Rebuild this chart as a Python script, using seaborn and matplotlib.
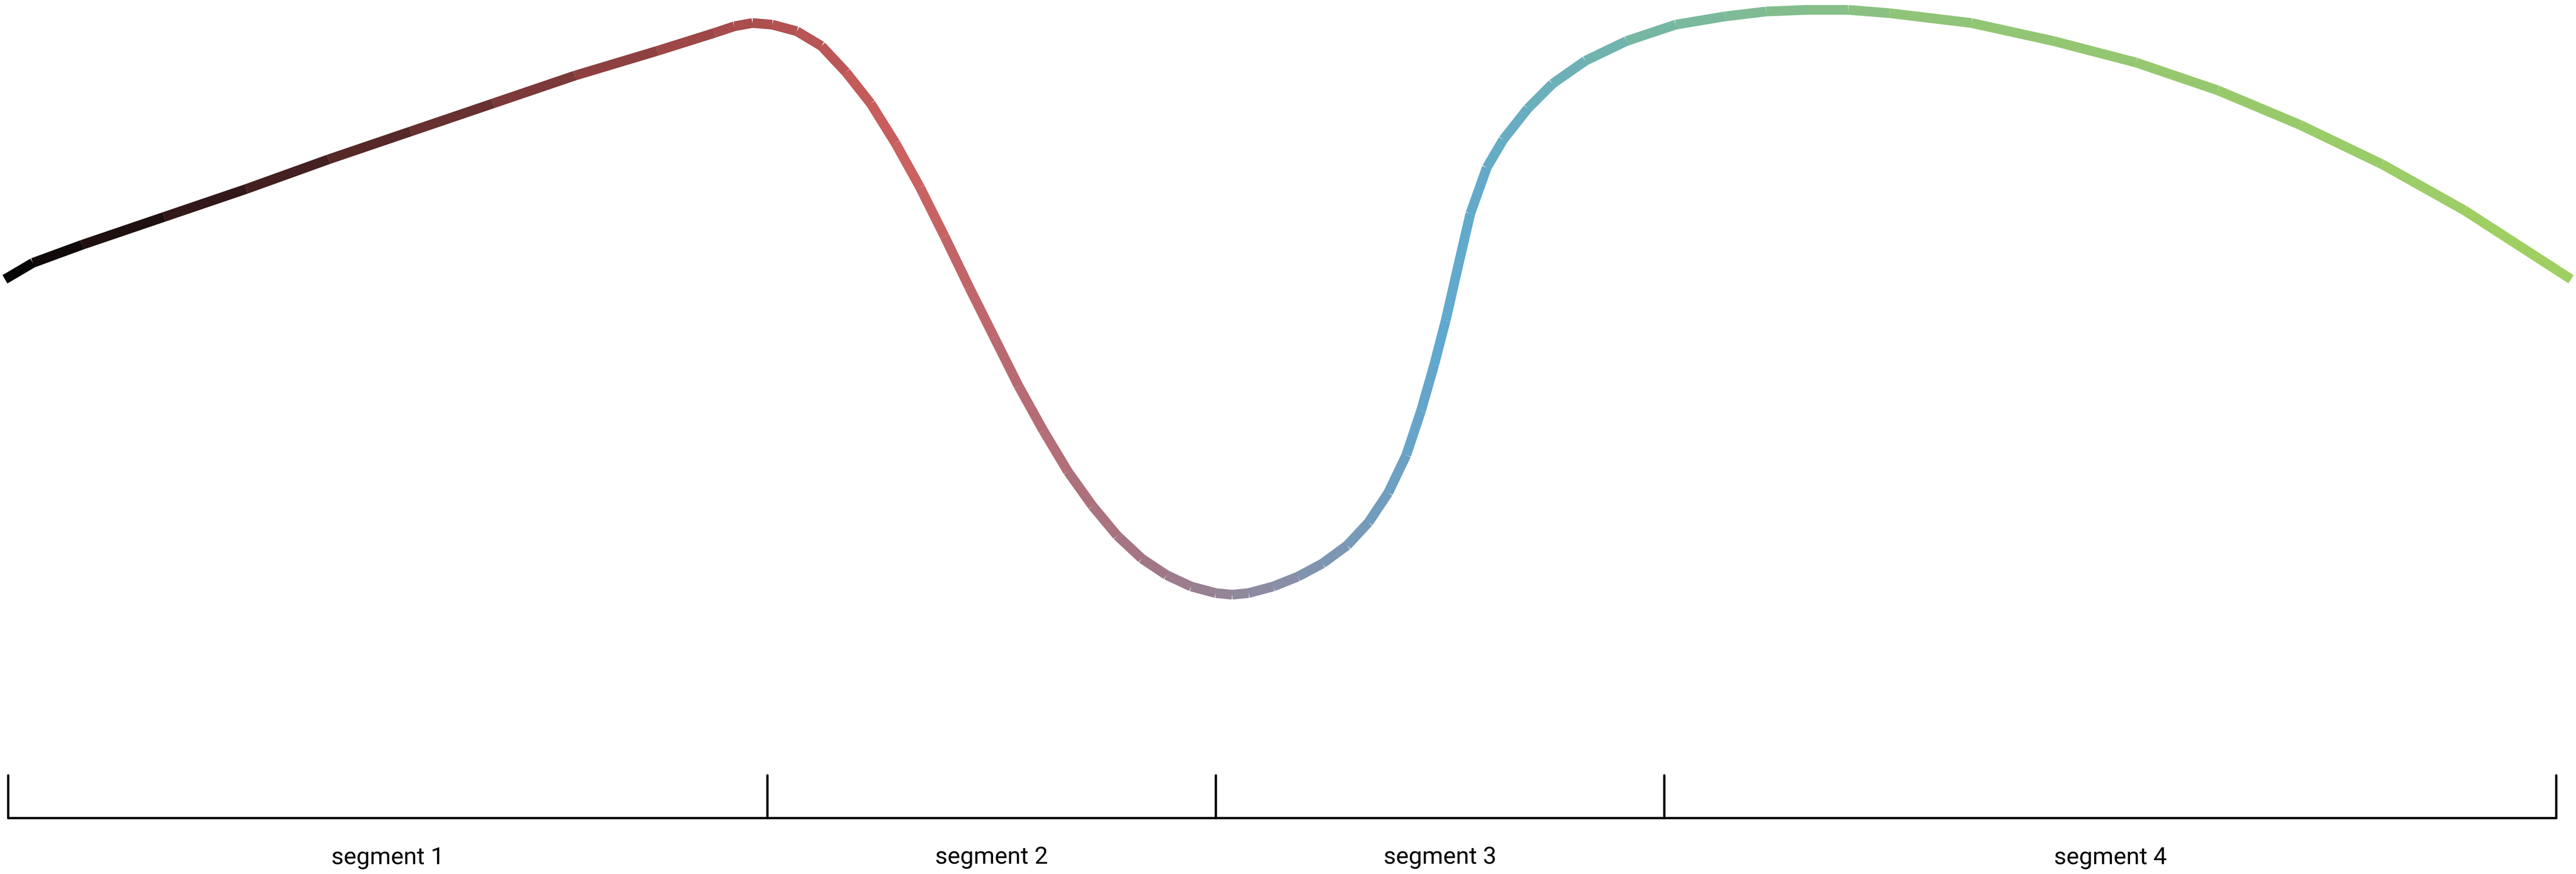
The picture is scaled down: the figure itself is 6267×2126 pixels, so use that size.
import numpy as np
import matplotlib
matplotlib.use("Agg")
import matplotlib.pyplot as plt
import seaborn as sns
from matplotlib.collections import LineCollection
from matplotlib.colors import LinearSegmentedColormap

sns.set_theme(style="white")
plt.rcParams['font.family'] = ['Roboto', 'DejaVu Sans']

# curve points (x, y in picture units, y downward)
curve_x = [3, 20, 50, 100, 150, 200, 250, 300, 350, 400, 435, 447, 458, 470, 485, 500, 515, 530, 545, 560, 575, 590, 605, 620, 635, 650, 665, 680, 695, 710, 725, 740, 750, 760, 775, 790, 805, 820, 833, 845, 856, 865, 873, 880, 888, 895, 905, 915, 930, 945, 965, 990, 1020, 1050, 1075, 1100, 1125, 1150, 1200, 1250, 1300, 1350, 1400, 1450, 1500, 1565]
curve_y = [170, 160, 149, 132, 115, 97, 80, 63, 46, 31, 20, 16, 14, 15, 19, 28, 44, 63, 87, 114, 144, 175, 205, 235, 262, 287, 308, 326, 340, 350, 357, 361, 362, 361, 357, 351, 343, 332, 318, 300, 277, 250, 222, 195, 160, 130, 102, 85, 66, 51, 37, 25, 15, 10, 7, 6, 6, 8, 14, 25, 38, 55, 76, 100, 128, 170]

color_stops = [(0.0, "#050505"), (0.27, "#a04848"), (0.35, "#cc6060"), (0.45, "#a07888"), (0.5, "#8890a8"), (0.56, "#60a8d0"), (0.65, "#78b8a0"), (0.75, "#90c478"), (1.0, "#a0d060")]

seg_bounds = [5, 467, 740, 1013, 1556]
seg_labels = ["segment 1", "segment 2", "segment 3", "segment 4"]

W, H = 1568, 532
fig = plt.figure(figsize=(62.67, 21.26), dpi=100)
ax = fig.add_axes([0, 0, 1, 1])
ax.set_xlim(0, W)
ax.set_ylim(H, 0)
ax.axis("off")

cmap = LinearSegmentedColormap.from_list("g", color_stops)
pts = np.column_stack([curve_x, curve_y])
segs = np.stack([pts[:-1], pts[1:]], axis=1)
mid = (np.array(curve_x[:-1]) + np.array(curve_x[1:])) / 2 / W
lc = LineCollection(segs, colors=cmap(mid), linewidth=17, capstyle="butt", joinstyle="round")
ax.add_collection(lc)

ax.plot([seg_bounds[0], seg_bounds[-1]], [498, 498], color="black", lw=4)
for b in seg_bounds:
    ax.plot([b, b], [472, 498], color="black", lw=4)
for i, lab in enumerate(seg_labels):
    ax.text((seg_bounds[i] + seg_bounds[i + 1]) / 2, 522, lab, ha="center", va="center", fontsize=42, color="black")

fig.savefig("out.png", dpi=100)
